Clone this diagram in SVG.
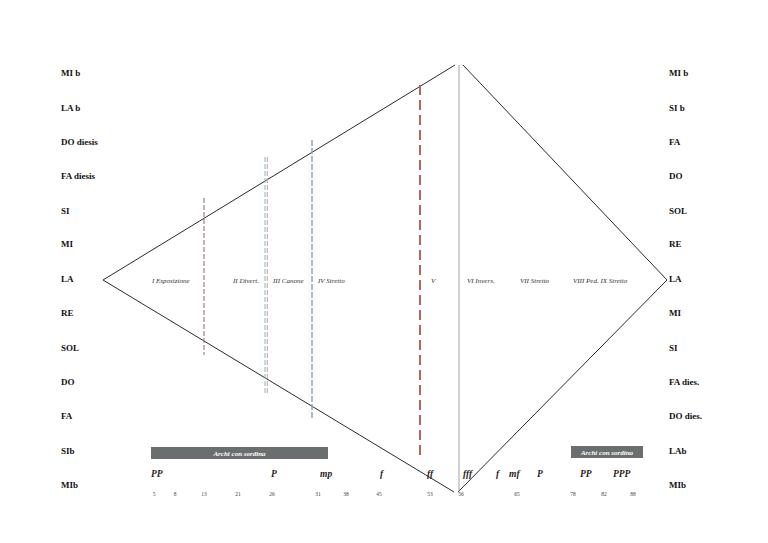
<svg xmlns="http://www.w3.org/2000/svg" width="768" height="543" viewBox="0 0 768 543">
<style>
.n{font-family:"Liberation Serif",serif;font-weight:bold;font-size:9px;fill:#111}
.s{font-family:"Liberation Serif",serif;font-style:italic;font-size:7px;fill:#333}
.d{font-family:"Liberation Serif",serif;font-style:italic;font-weight:bold;font-size:9.5px;fill:#2a2218}
.m{font-family:"Liberation Serif",serif;font-size:5.5px;fill:#444;text-anchor:middle}
.b{fill:#6b6e6e}
.bt{font-family:"Liberation Serif",serif;font-style:italic;font-weight:bold;font-size:7px;fill:#fff;text-anchor:middle}
.e{fill:none;stroke:#2a2a2a;stroke-width:1}
</style>
<rect width="768" height="543" fill="#fff"/>
<g id="left-labels">
<text class="n" x="61" y="76">MI b</text>
<text class="n" x="61" y="111">LA b</text>
<text class="n" x="61" y="145">DO diesis</text>
<text class="n" x="61" y="179">FA  diesis</text>
<text class="n" x="61" y="214">SI</text>
<text class="n" x="61" y="247">MI</text>
<text class="n" x="61" y="282">LA</text>
<text class="n" x="61" y="316">RE</text>
<text class="n" x="61" y="351">SOL</text>
<text class="n" x="61" y="385">DO</text>
<text class="n" x="61" y="419">FA</text>
<text class="n" x="61" y="454">SIb</text>
<text class="n" x="61" y="488">MIb</text>
</g>
<g id="right-labels">
<text class="n" x="669" y="76">MI b</text>
<text class="n" x="669" y="111">SI b</text>
<text class="n" x="669" y="145">FA</text>
<text class="n" x="669" y="179">DO</text>
<text class="n" x="669" y="214">SOL</text>
<text class="n" x="669" y="247">RE</text>
<text class="n" x="669" y="282">LA</text>
<text class="n" x="669" y="316">MI</text>
<text class="n" x="669" y="351">SI</text>
<text class="n" x="669" y="385">FA dies.</text>
<text class="n" x="669" y="419">DO dies.</text>
<text class="n" x="669" y="454">LAb</text>
<text class="n" x="669" y="488">MIb</text>
</g>
<g id="connectors">
<polyline class="e" points="455,65 103,280 454,492"/>
<polyline class="e" points="463,65 667,280 458,492"/>
<line x1="459" y1="65" x2="459" y2="492" stroke="#999" stroke-width="0.9"/>
<line x1="204" y1="198" x2="204" y2="355" stroke="#9c7c96" stroke-width="1.2" stroke-dasharray="5,2"/>
<line x1="265" y1="157" x2="265" y2="395" stroke="#7fbcbc" stroke-width="1" stroke-dasharray="5,2"/>
<line x1="267.3" y1="157" x2="267.3" y2="395" stroke="#d69a8c" stroke-width="1" stroke-dasharray="5,2"/>
<line x1="312" y1="140" x2="312" y2="418" stroke="#8ea4b4" stroke-width="1.5" stroke-dasharray="6,2"/>
<line x1="420" y1="85" x2="420" y2="455" stroke="#b0685a" stroke-width="2" stroke-dasharray="10,5"/>
</g>
<g id="sections">
<text class="s" x="152" y="283">I Esposizione</text>
<text class="s" x="233" y="283">II Divert.</text>
<text class="s" x="273" y="283">III Canone</text>
<text class="s" x="318" y="283">IV Stretto</text>
<text class="s" x="431" y="283">V</text>
<text class="s" x="467" y="283">VI Invers.</text>
<text class="s" x="520" y="283">VII Stretto</text>
<text class="s" x="573" y="283">VIII Ped.  IX Stretto</text>
</g>
<g id="bar-left">
<rect class="b" x="151" y="447" width="177" height="12"/>
<text class="bt" x="239.5" y="455.5">Archi con sordina</text>
</g>
<g id="bar-right">
<rect class="b" x="571" y="446" width="72" height="12"/>
<text class="bt" x="607" y="454.5">Archi con sordina</text>
</g>
<g id="dynamics">
<text class="d" x="151" y="477">PP</text>
<text class="d" x="271" y="477">P</text>
<text class="d" x="320" y="477">mp</text>
<text class="d" x="380" y="477">f</text>
<text class="d" x="427" y="477">ff</text>
<text class="d" x="463" y="477">fff</text>
<text class="d" x="496" y="477">f</text>
<text class="d" x="509" y="477">mf</text>
<text class="d" x="537" y="477">P</text>
<text class="d" x="580" y="477">PP</text>
<text class="d" x="613" y="477">PPP</text>
</g>
<g id="measures">
<text class="m" x="154" y="496">5</text>
<text class="m" x="175" y="496">8</text>
<text class="m" x="204" y="496">13</text>
<text class="m" x="238" y="496">21</text>
<text class="m" x="272" y="496">26</text>
<text class="m" x="318" y="496">31</text>
<text class="m" x="346" y="496">38</text>
<text class="m" x="379" y="496">45</text>
<text class="m" x="430" y="496">53</text>
<text class="m" x="461" y="496">56</text>
<text class="m" x="517" y="496">65</text>
<text class="m" x="573" y="496">78</text>
<text class="m" x="604" y="496">82</text>
<text class="m" x="633" y="496">88</text>
</g>
</svg>
